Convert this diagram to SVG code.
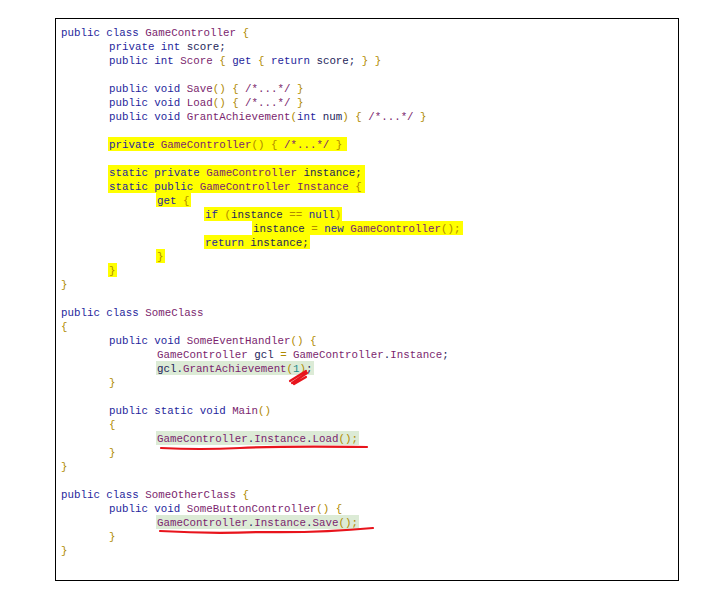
<svg xmlns="http://www.w3.org/2000/svg" width="711" height="597" viewBox="0 0 711 597">
<style>
text{font-family:"Liberation Mono","DejaVu Sans Mono",monospace;font-size:10.8px;fill:#1e1e5a;white-space:pre}
.k{fill:#1f1f9c}.t{fill:#7b1f6e}.p{fill:#b08a00}.c{fill:#7b1f6e}.n{fill:#1f8a8a}
.y{fill:#ffff00}.g{fill:#dcebd6}
.r{fill:none;stroke:#e8141c;stroke-width:2.2;stroke-linecap:round}
</style>
<rect x="55.5" y="18.5" width="623" height="562" fill="#fff" stroke="#000" stroke-width="1"/>
<g id="highlights">
<rect class="y" x="108" y="137" width="239" height="14"/>
<rect class="y" x="108" y="165" width="257" height="14"/>
<rect class="y" x="108" y="179" width="257" height="14"/>
<rect class="y" x="156" y="193" width="35" height="14"/>
<rect class="y" x="204" y="207" width="138" height="14"/>
<rect class="y" x="252" y="221" width="211" height="14"/>
<rect class="y" x="204" y="235" width="106" height="14"/>
<rect class="y" x="156" y="249" width="9" height="14"/>
<rect class="y" x="108" y="263" width="9" height="14"/>
<rect class="g" x="156" y="361" width="158" height="14"/>
<rect class="g" x="156" y="431" width="203" height="14"/>
<rect class="g" x="156" y="515" width="203" height="14"/>
</g>
<g id="code">
<text x="61" y="36"><tspan class="k">public class</tspan> <tspan class="t">GameController</tspan> <tspan class="p">{</tspan></text>
<text x="109" y="50"><tspan class="k">private int</tspan> score;</text>
<text x="109" y="64"><tspan class="k">public int</tspan> <tspan class="t">Score</tspan> <tspan class="p">{</tspan> <tspan class="k">get</tspan> <tspan class="p">{</tspan> <tspan class="k">return</tspan> score; <tspan class="p">}</tspan> <tspan class="p">}</tspan></text>
<text x="109" y="92"><tspan class="k">public void</tspan> <tspan class="t">Save</tspan><tspan class="p">()</tspan> <tspan class="p">{</tspan> <tspan class="c">/*...*/</tspan> <tspan class="p">}</tspan></text>
<text x="109" y="106"><tspan class="k">public void</tspan> <tspan class="t">Load</tspan><tspan class="p">()</tspan> <tspan class="p">{</tspan> <tspan class="c">/*...*/</tspan> <tspan class="p">}</tspan></text>
<text x="109" y="120"><tspan class="k">public void</tspan> <tspan class="t">GrantAchievement</tspan><tspan class="p">(</tspan><tspan class="k">int</tspan> num<tspan class="p">)</tspan> <tspan class="p">{</tspan> <tspan class="c">/*...*/</tspan> <tspan class="p">}</tspan></text>
<text x="109" y="148"><tspan class="k">private</tspan> <tspan class="t">GameController</tspan><tspan class="p">()</tspan> <tspan class="p">{</tspan> <tspan class="c">/*...*/</tspan> <tspan class="p">}</tspan></text>
<text x="109" y="176"><tspan class="k">static private</tspan> <tspan class="t">GameController</tspan> instance;</text>
<text x="109" y="190"><tspan class="k">static public</tspan> <tspan class="t">GameController</tspan> <tspan class="t">Instance</tspan> <tspan class="p">{</tspan></text>
<text x="157" y="204"><tspan class="k">get</tspan> <tspan class="p">{</tspan></text>
<text x="205" y="218"><tspan class="k">if</tspan> <tspan class="p">(</tspan>instance <tspan class="p">==</tspan> <tspan class="k">null</tspan><tspan class="p">)</tspan></text>
<text x="253" y="232">instance <tspan class="p">=</tspan> <tspan class="k">new</tspan> <tspan class="t">GameController</tspan><tspan class="p">();</tspan></text>
<text x="205" y="246"><tspan class="k">return</tspan> instance;</text>
<text x="157" y="260" class="p">}</text>
<text x="109" y="274" class="p">}</text>
<text x="61" y="288" class="p">}</text>
<text x="61" y="316"><tspan class="k">public class</tspan> <tspan class="t">SomeClass</tspan></text>
<text x="61" y="330" class="p">{</text>
<text x="109" y="344"><tspan class="k">public void</tspan> <tspan class="t">SomeEventHandler</tspan><tspan class="p">()</tspan> <tspan class="p">{</tspan></text>
<text x="157" y="358"><tspan class="t">GameController</tspan> gcl <tspan class="p">=</tspan> <tspan class="t">GameController</tspan>.<tspan class="t">Instance</tspan>;</text>
<text x="157" y="372">gcl.<tspan class="t">GrantAchievement</tspan><tspan class="p">(</tspan><tspan class="n">1</tspan><tspan class="p">)</tspan>;</text>
<text x="109" y="386" class="p">}</text>
<text x="109" y="414"><tspan class="k">public static void</tspan> <tspan class="t">Main</tspan><tspan class="p">()</tspan></text>
<text x="109" y="428" class="p">{</text>
<text x="157" y="442"><tspan class="t">GameController</tspan>.<tspan class="t">Instance</tspan>.<tspan class="t">Load</tspan><tspan class="p">();</tspan></text>
<text x="109" y="456" class="p">}</text>
<text x="61" y="470" class="p">}</text>
<text x="61" y="498"><tspan class="k">public class</tspan> <tspan class="t">SomeOtherClass</tspan> <tspan class="p">{</tspan></text>
<text x="109" y="512"><tspan class="k">public void</tspan> <tspan class="t">SomeButtonController</tspan><tspan class="p">()</tspan> <tspan class="p">{</tspan></text>
<text x="157" y="526"><tspan class="t">GameController</tspan>.<tspan class="t">Instance</tspan>.<tspan class="t">Save</tspan><tspan class="p">();</tspan></text>
<text x="109" y="540" class="p">}</text>
<text x="61" y="554" class="p">}</text>
</g>
<g id="marks">
<path class="r" d="M161,448 Q200,450 240,448 T367,447"/>
<path class="r" d="M160,531 Q210,534 260,532 Q320,533 373,528"/>
<path class="r" d="M290,381 L306,371 M292,383 L307,373 M294,384 L306,377" stroke-width="3"/>
</g>
</svg>
